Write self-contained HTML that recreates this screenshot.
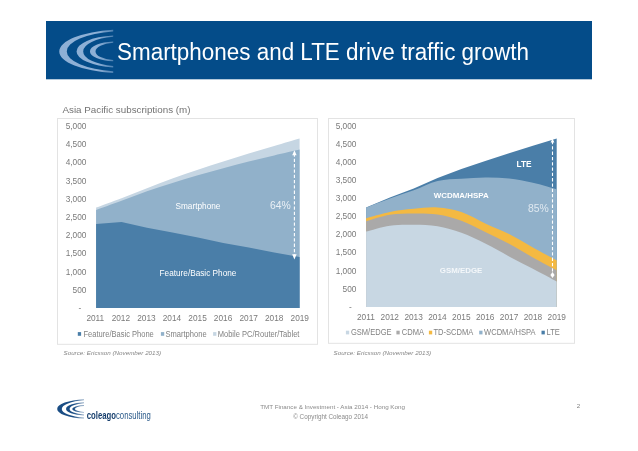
<!DOCTYPE html>
<html><head><meta charset="utf-8"><style>
html,body{margin:0;padding:0;background:#fff;width:638px;height:451px;overflow:hidden}
svg{display:block;will-change:transform;font-family:"Liberation Sans",sans-serif}
</style></head><body>
<svg width="638" height="451" viewBox="0 0 638 451">
<defs><linearGradient id="bg" gradientUnits="userSpaceOnUse" x1="59" y1="0" x2="113.2" y2="0"><stop offset="0" stop-color="#8eb0d6"/><stop offset="0.72" stop-color="#8eb0d6"/><stop offset="1" stop-color="#8eb0d6" stop-opacity="0.55"/></linearGradient></defs>
<rect x="46" y="21" width="546" height="58.3" fill="#044c89"/>
<path d="M113.20,29.80 A65.80,21.96 0 0 0 113.20,73.00 L113.20,71.30 A58.20,20.32 0 0 1 113.20,31.50 Z" fill="url(#bg)"/>
<path d="M113.20,35.40 A44.40,16.25 0 0 0 113.20,67.40 L113.20,66.00 A37.80,14.92 0 0 1 113.20,36.80 Z" fill="url(#bg)"/>
<path d="M113.20,41.50 A27.10,10.00 0 0 0 113.20,61.30 L113.20,60.10 A21.50,8.84 0 0 1 113.20,42.70 Z" fill="url(#bg)"/>
<g transform="translate(117.0,60.3) scale(1,1.09)"><text x="0" y="0" font-size="22.45" fill="#ffffff">Smartphones and LTE drive traffic growth</text></g>
<text x="62.5" y="113.3" font-size="9.8" fill="#737373">Asia Pacific subscriptions (m)</text>
<rect x="57.5" y="118.5" width="260" height="225.8" fill="none" stroke="#e3e3e3" stroke-width="1"/>
<rect x="328.5" y="118.5" width="246" height="224.8" fill="none" stroke="#e3e3e3" stroke-width="1"/>
<path d="M96.10,207.60 C100.34,206.03 113.06,201.43 121.54,198.20 C130.02,194.97 138.50,191.47 146.97,188.20 C155.45,184.93 163.93,181.67 172.41,178.60 C180.89,175.53 189.37,172.65 197.85,169.80 C206.33,166.95 214.81,164.20 223.29,161.50 C231.77,158.80 240.25,156.18 248.73,153.60 C257.20,151.02 265.68,148.52 274.16,146.00 C282.64,143.48 295.36,139.75 299.60,138.50 L299.60,307.90 L96.10,307.90 Z" fill="#c6d6e3"/>
<path d="M96.10,209.90 C100.34,208.38 113.06,203.92 121.54,200.80 C130.02,197.68 138.50,194.18 146.97,191.20 C155.45,188.22 163.93,185.55 172.41,182.90 C180.89,180.25 189.37,177.73 197.85,175.30 C206.33,172.87 214.81,170.58 223.29,168.30 C231.77,166.02 240.25,163.75 248.73,161.60 C257.20,159.45 265.68,157.42 274.16,155.40 C282.64,153.38 295.36,150.48 299.60,149.50 L299.60,307.90 L96.10,307.90 Z" fill="#91b1ca"/>
<path d="M96.10,223.90 L121.54,222.00 L146.97,227.80 L172.41,232.50 L197.85,237.60 L223.29,243.00 L248.73,247.50 L274.16,252.60 L299.60,256.90 L299.60,307.90 L96.10,307.90 Z" fill="#4a7ea8"/>
<path d="M366.10,207.40 L389.93,197.40 L413.75,188.40 L437.58,178.00 L461.40,169.00 L485.23,161.10 L509.05,153.20 L532.88,145.80 L556.70,138.50 L556.70,306.90 L366.10,306.90 Z" fill="#4a7ea8"/>
<path d="M366.10,207.50 C370.07,205.98 381.98,201.27 389.93,198.40 C397.87,195.53 405.81,193.20 413.75,190.30 C421.69,187.40 429.63,182.92 437.58,181.00 C445.52,179.08 453.46,179.37 461.40,178.80 C469.34,178.23 477.28,177.65 485.23,177.60 C493.17,177.55 501.11,177.63 509.05,178.50 C516.99,179.37 524.93,181.00 532.88,182.80 C540.82,184.60 552.73,188.22 556.70,189.30 L556.70,306.90 L366.10,306.90 Z" fill="#91b1ca"/>
<path d="M366.10,218.20 C370.07,217.15 381.98,213.47 389.93,211.90 C397.87,210.33 405.81,209.53 413.75,208.80 C421.69,208.07 429.63,206.97 437.58,207.50 C445.52,208.03 453.46,209.33 461.40,212.00 C469.34,214.67 477.28,219.83 485.23,223.50 C493.17,227.17 501.11,230.02 509.05,234.00 C516.99,237.98 524.93,243.02 532.88,247.40 C540.82,251.78 552.73,258.15 556.70,260.30 L556.70,306.90 L366.10,306.90 Z" fill="#f4b942"/>
<path d="M366.10,221.30 C370.07,220.22 381.98,216.10 389.93,214.80 C397.87,213.50 405.81,213.53 413.75,213.50 C421.69,213.47 429.63,213.38 437.58,214.60 C445.52,215.82 453.46,217.90 461.40,220.80 C469.34,223.70 477.28,228.17 485.23,232.00 C493.17,235.83 501.11,239.57 509.05,243.80 C516.99,248.03 524.93,253.00 532.88,257.40 C540.82,261.80 552.73,268.07 556.70,270.20 L556.70,306.90 L366.10,306.90 Z" fill="#aaa9a9"/>
<path d="M366.10,231.60 C370.07,230.62 381.98,226.83 389.93,225.70 C397.87,224.57 405.81,224.70 413.75,224.80 C421.69,224.90 429.63,224.97 437.58,226.30 C445.52,227.63 453.46,229.92 461.40,232.80 C469.34,235.68 477.28,239.67 485.23,243.60 C493.17,247.53 501.11,252.20 509.05,256.40 C516.99,260.60 524.93,264.62 532.88,268.80 C540.82,272.98 552.73,279.38 556.70,281.50 L556.70,306.90 L366.10,306.90 Z" fill="#c8d7e3"/>
<text x="86.40" y="292.81" font-size="8.3" fill="#7a7a7a" text-anchor="end">500</text>
<text x="86.40" y="274.62" font-size="8.3" fill="#7a7a7a" text-anchor="end">1,000</text>
<text x="86.40" y="256.43" font-size="8.3" fill="#7a7a7a" text-anchor="end">1,500</text>
<text x="86.40" y="238.24" font-size="8.3" fill="#7a7a7a" text-anchor="end">2,000</text>
<text x="86.40" y="220.05" font-size="8.3" fill="#7a7a7a" text-anchor="end">2,500</text>
<text x="86.40" y="201.86" font-size="8.3" fill="#7a7a7a" text-anchor="end">3,000</text>
<text x="86.40" y="183.67" font-size="8.3" fill="#7a7a7a" text-anchor="end">3,500</text>
<text x="86.40" y="165.48" font-size="8.3" fill="#7a7a7a" text-anchor="end">4,000</text>
<text x="86.40" y="147.29" font-size="8.3" fill="#7a7a7a" text-anchor="end">4,500</text>
<text x="86.40" y="129.10" font-size="8.3" fill="#7a7a7a" text-anchor="end">5,000</text>
<text x="79.90" y="311.20" font-size="8.3" fill="#7a7a7a" text-anchor="middle">-</text>
<text x="356.40" y="291.68" font-size="8.3" fill="#7a7a7a" text-anchor="end">500</text>
<text x="356.40" y="273.56" font-size="8.3" fill="#7a7a7a" text-anchor="end">1,000</text>
<text x="356.40" y="255.44" font-size="8.3" fill="#7a7a7a" text-anchor="end">1,500</text>
<text x="356.40" y="237.32" font-size="8.3" fill="#7a7a7a" text-anchor="end">2,000</text>
<text x="356.40" y="219.20" font-size="8.3" fill="#7a7a7a" text-anchor="end">2,500</text>
<text x="356.40" y="201.08" font-size="8.3" fill="#7a7a7a" text-anchor="end">3,000</text>
<text x="356.40" y="182.96" font-size="8.3" fill="#7a7a7a" text-anchor="end">3,500</text>
<text x="356.40" y="164.84" font-size="8.3" fill="#7a7a7a" text-anchor="end">4,000</text>
<text x="356.40" y="146.72" font-size="8.3" fill="#7a7a7a" text-anchor="end">4,500</text>
<text x="356.40" y="128.60" font-size="8.3" fill="#7a7a7a" text-anchor="end">5,000</text>
<text x="350.40" y="310.00" font-size="8.3" fill="#7a7a7a" text-anchor="middle">-</text>
<text x="95.30" y="321" font-size="8.3" fill="#7a7a7a" text-anchor="middle">2011</text>
<text x="365.90" y="320.2" font-size="8.3" fill="#7a7a7a" text-anchor="middle">2011</text>
<text x="120.86" y="321" font-size="8.3" fill="#7a7a7a" text-anchor="middle">2012</text>
<text x="389.76" y="320.2" font-size="8.3" fill="#7a7a7a" text-anchor="middle">2012</text>
<text x="146.42" y="321" font-size="8.3" fill="#7a7a7a" text-anchor="middle">2013</text>
<text x="413.62" y="320.2" font-size="8.3" fill="#7a7a7a" text-anchor="middle">2013</text>
<text x="171.98" y="321" font-size="8.3" fill="#7a7a7a" text-anchor="middle">2014</text>
<text x="437.48" y="320.2" font-size="8.3" fill="#7a7a7a" text-anchor="middle">2014</text>
<text x="197.54" y="321" font-size="8.3" fill="#7a7a7a" text-anchor="middle">2015</text>
<text x="461.34" y="320.2" font-size="8.3" fill="#7a7a7a" text-anchor="middle">2015</text>
<text x="223.10" y="321" font-size="8.3" fill="#7a7a7a" text-anchor="middle">2016</text>
<text x="485.20" y="320.2" font-size="8.3" fill="#7a7a7a" text-anchor="middle">2016</text>
<text x="248.66" y="321" font-size="8.3" fill="#7a7a7a" text-anchor="middle">2017</text>
<text x="509.06" y="320.2" font-size="8.3" fill="#7a7a7a" text-anchor="middle">2017</text>
<text x="274.22" y="321" font-size="8.3" fill="#7a7a7a" text-anchor="middle">2018</text>
<text x="532.92" y="320.2" font-size="8.3" fill="#7a7a7a" text-anchor="middle">2018</text>
<text x="299.78" y="321" font-size="8.3" fill="#7a7a7a" text-anchor="middle">2019</text>
<text x="556.78" y="320.2" font-size="8.3" fill="#7a7a7a" text-anchor="middle">2019</text>
<rect x="77.80" y="332.10" width="3.3" height="3.7" fill="#4a7ea8"/>
<g transform="translate(83.40,336.60) scale(1,1.15)"><text x="0" y="0" font-size="7.55" fill="#818181">Feature/Basic Phone</text></g>
<rect x="160.90" y="332.10" width="3.3" height="3.7" fill="#91b1ca"/>
<g transform="translate(165.50,336.60) scale(1,1.15)"><text x="0" y="0" font-size="7.55" fill="#818181">Smartphone</text></g>
<rect x="213.10" y="332.10" width="3.3" height="3.7" fill="#c6d6e3"/>
<g transform="translate(217.70,336.60) scale(1,1.15)"><text x="0" y="0" font-size="7.55" fill="#818181">Mobile PC/Router/Tablet</text></g>
<rect x="345.90" y="330.70" width="3.3" height="3.7" fill="#c8d7e3"/>
<g transform="translate(350.90,335.20) scale(1,1.15)"><text x="0" y="0" font-size="7.55" fill="#818181">GSM/EDGE</text></g>
<rect x="396.40" y="330.70" width="3.3" height="3.7" fill="#aaa9a9"/>
<g transform="translate(401.80,335.20) scale(1,1.15)"><text x="0" y="0" font-size="7.55" fill="#818181">CDMA</text></g>
<rect x="428.90" y="330.70" width="3.3" height="3.7" fill="#f4b942"/>
<g transform="translate(433.40,335.20) scale(1,1.15)"><text x="0" y="0" font-size="7.55" fill="#818181">TD-SCDMA</text></g>
<rect x="479.20" y="330.70" width="3.3" height="3.7" fill="#91b1ca"/>
<g transform="translate(484.10,335.20) scale(1,1.15)"><text x="0" y="0" font-size="7.55" fill="#818181">WCDMA/HSPA</text></g>
<rect x="541.50" y="330.70" width="3.3" height="3.7" fill="#4a7ea8"/>
<g transform="translate(546.60,335.20) scale(1,1.15)"><text x="0" y="0" font-size="7.55" fill="#818181">LTE</text></g>
<g transform="translate(175.5,209.2) scale(1,1.12)"><text x="0" y="0" font-size="8.25" fill="#ffffff">Smartphone</text></g>
<text x="270" y="208.6" font-size="10.4" fill="#e9eff5">64%</text>
<text x="159.6" y="276" font-size="8.23" fill="#ffffff">Feature/Basic Phone</text>
<text x="433.8" y="197.6" font-size="7.95" font-weight="bold" fill="#ffffff">WCDMA/HSPA</text>
<text x="516.6" y="167.1" font-size="8.3" font-weight="bold" fill="#ffffff">LTE</text>
<text x="528" y="212" font-size="10.4" fill="#dfe8f0">85%</text>
<text x="439.8" y="273.0" font-size="7.9" font-weight="bold" fill="#f4f7fa">GSM/EDGE</text>
<line x1="294.4" y1="153.5" x2="294.4" y2="255" stroke="#ffffff" stroke-width="1.1" stroke-dasharray="3.3,2"/>
<path d="M294.4,150.2 L292.2,155.2 L296.6,155.2 Z" fill="#ffffff"/>
<path d="M294.4,259.5 L292.2,254.3 L296.6,254.3 Z" fill="#ffffff"/>
<line x1="552.5" y1="141" x2="552.5" y2="273" stroke="#ffffff" stroke-width="1.1" stroke-dasharray="3.3,2"/>
<path d="M552.5,138.5 L550.6,142.5 L554.4,142.5 Z" fill="#ffffff"/>
<path d="M552.5,272 L554.6,275 L552.5,278 L550.4,275 Z" fill="#ffffff"/>
<text x="63.5" y="354.5" font-size="6.25" font-style="italic" fill="#858585">Source: Ericsson (November 2013)</text>
<text x="333.5" y="354.5" font-size="6.25" font-style="italic" fill="#858585">Source: Ericsson (November 2013)</text>
<defs><linearGradient id="fg" gradientUnits="userSpaceOnUse" x1="57" y1="0" x2="84" y2="0"><stop offset="0" stop-color="#1a4d84"/><stop offset="0.6" stop-color="#1a4d84"/><stop offset="1" stop-color="#1a4d84" stop-opacity="0.45"/></linearGradient></defs>
<path d="M84.00,399.20 A32.90,9.87 0 0 0 84.00,418.60 L84.00,417.50 A28.20,8.80 0 0 1 84.00,400.30 Z" fill="url(#fg)"/>
<path d="M84.00,402.30 A21.90,6.71 0 0 0 84.00,415.50 L84.00,414.60 A18.40,5.84 0 0 1 84.00,403.20 Z" fill="url(#fg)"/>
<path d="M84.00,405.10 A13.80,3.84 0 0 0 84.00,412.70 L84.00,411.90 A11.10,3.05 0 0 1 84.00,405.90 Z" fill="url(#fg)"/>
<g transform="translate(86.7,418.6) scale(0.68,1)"><text x="0" y="0" font-size="11.4" fill="#173f6d"><tspan font-weight="bold">coleago</tspan><tspan fill="#2a5a8a">consulting</tspan></text></g>
<text x="332.6" y="409.2" font-size="6.26" fill="#8a8a8a" text-anchor="middle">TMT Finance &amp; Investment - Asia 2014 - Hong Kong</text>
<text x="330.6" y="418.5" font-size="6.35" fill="#8a8a8a" text-anchor="middle">© Copyright Coleago 2014</text>
<text x="578.6" y="408.4" font-size="6.2" fill="#7f7f7f" text-anchor="middle">2</text>
</svg>
</body></html>
